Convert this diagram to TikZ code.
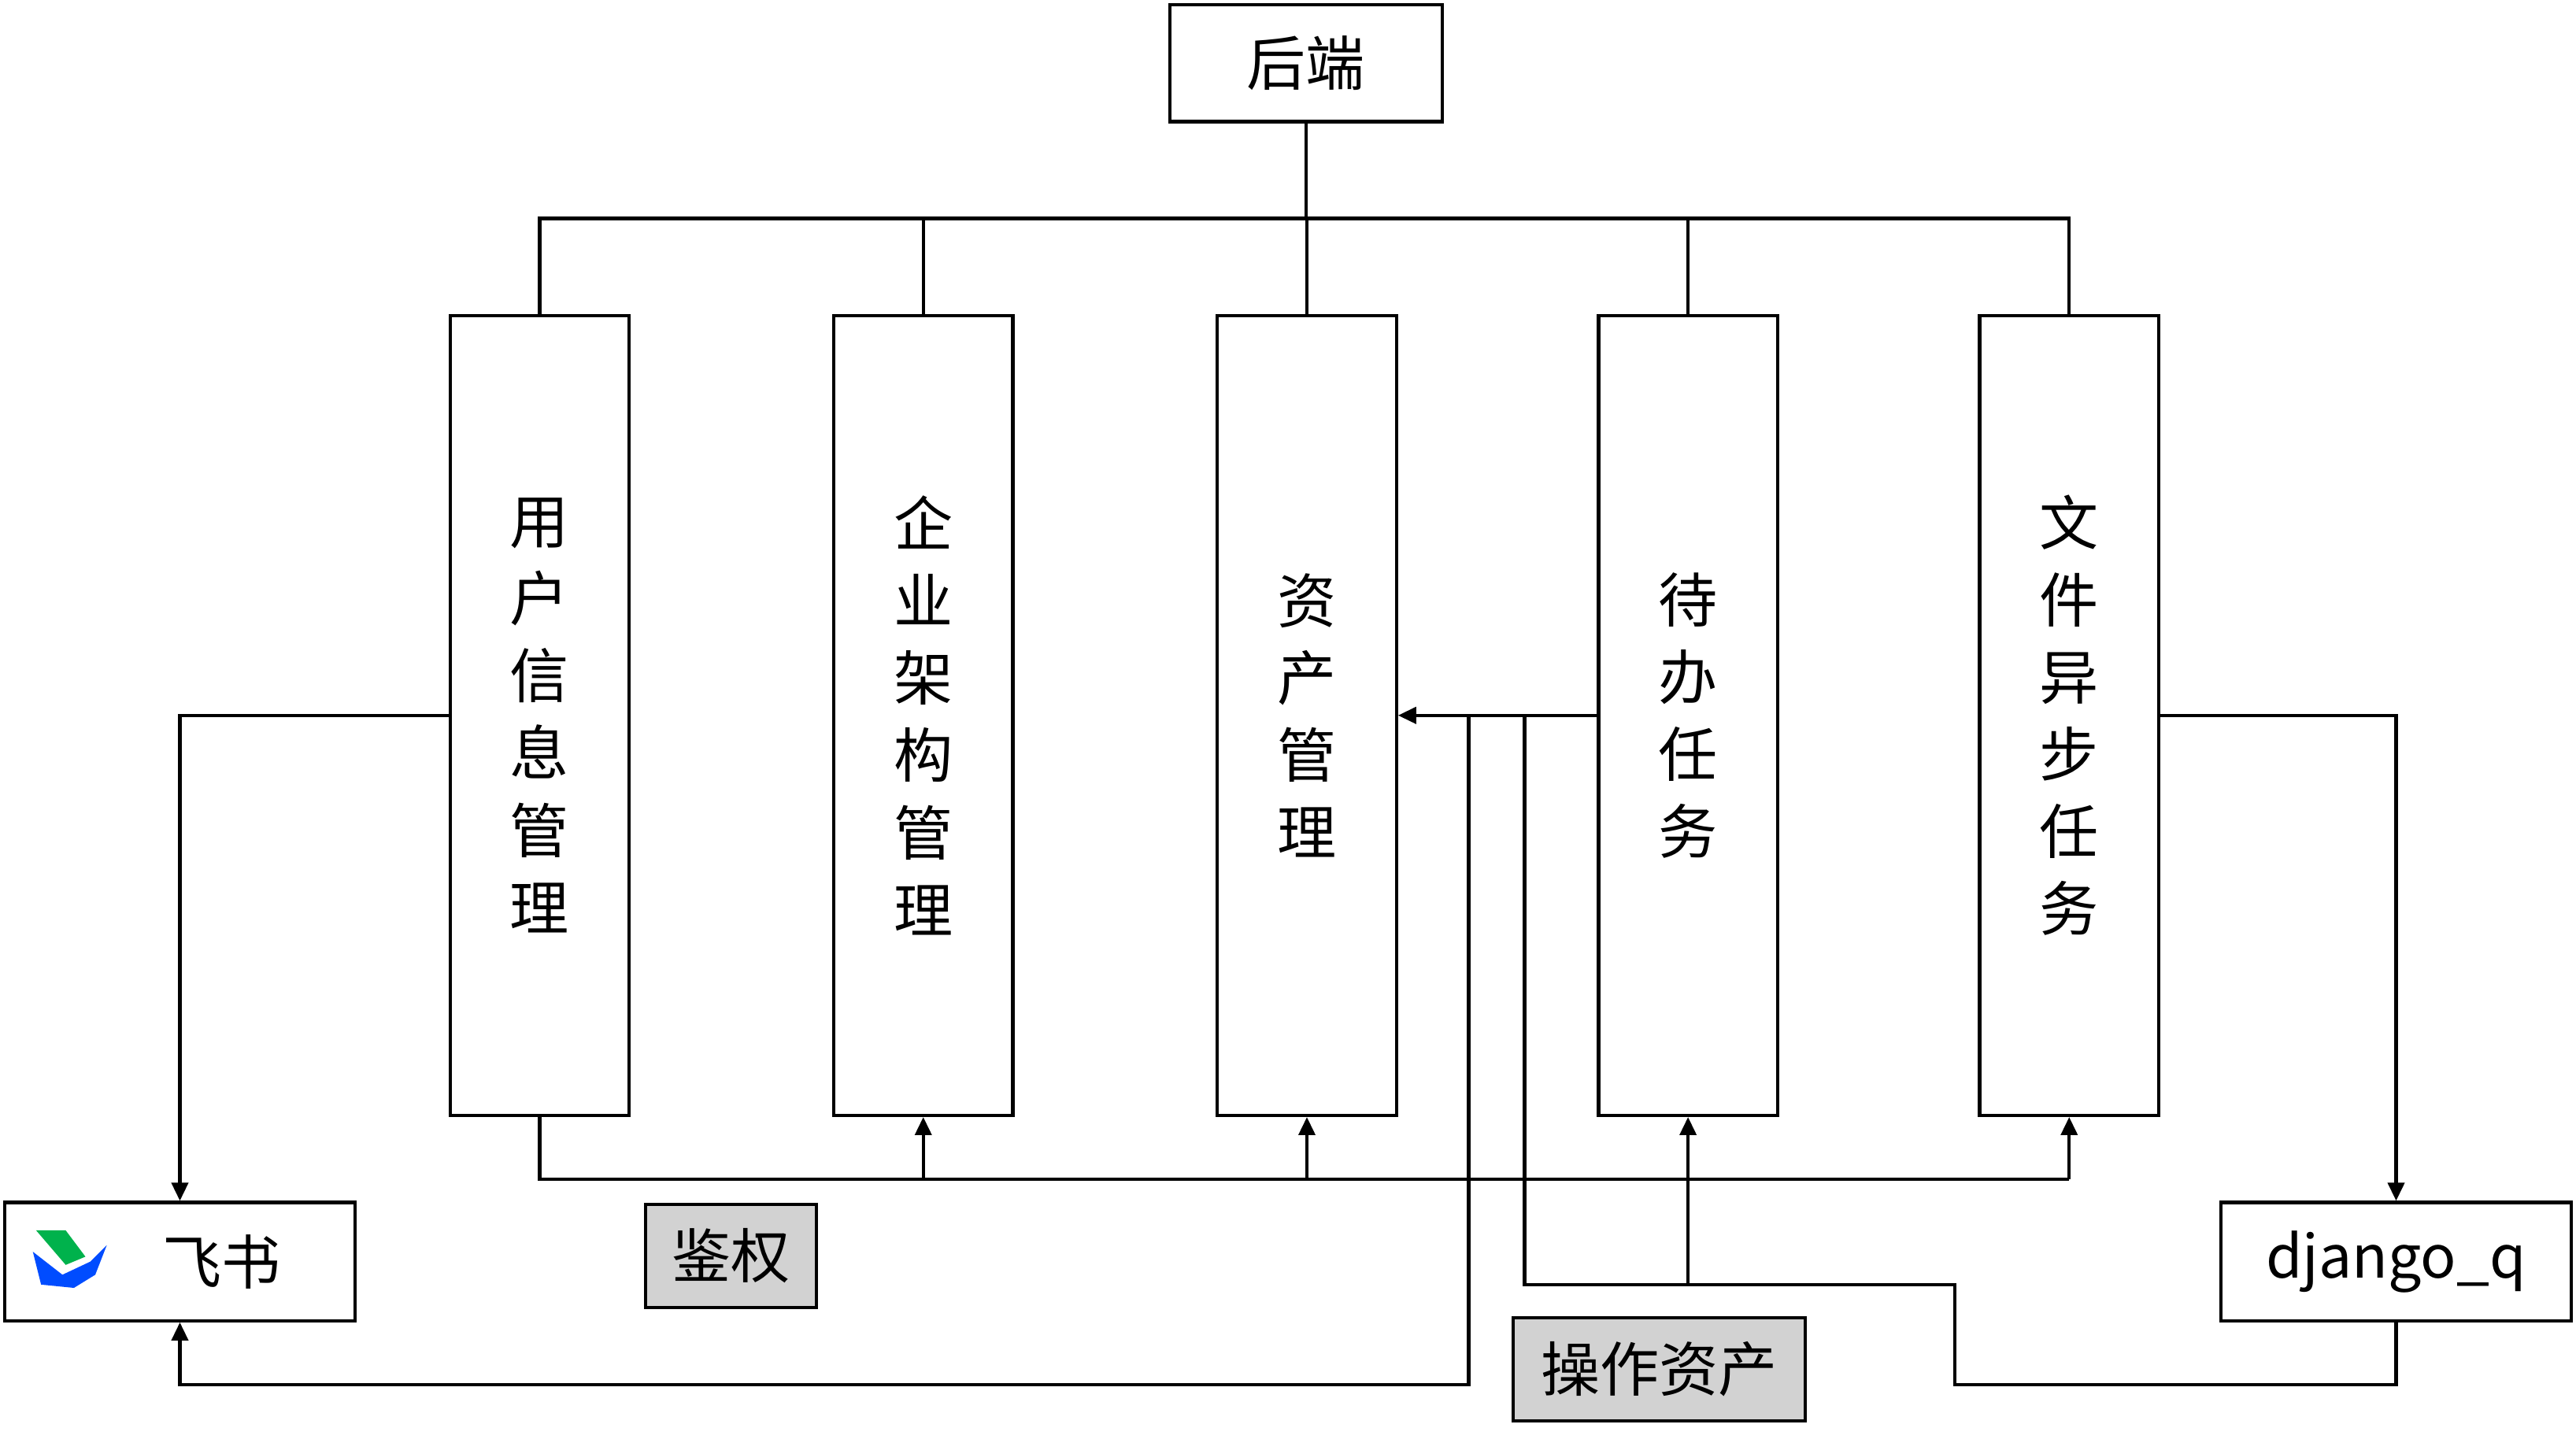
\documentclass[tikz,border=0pt]{standalone}
\usepackage{fontspec}
\newfontfamily\cjk{Noto Sans CJK SC}
\setmainfont{Noto Sans CJK SC}
\usetikzlibrary{arrows.meta}
\begin{document}
\begin{tikzpicture}[x=1pt,y=-1pt,
  box/.style={draw,line width=2pt,inner sep=0},
  gbox/.style={draw,line width=2pt,fill=gray!35,inner sep=0},
  ln/.style={line width=2pt},
  ar/.style={ln,-{Triangle[length=11pt,width=10pt]}},
  tx/.style={font=\fontsize{36}{44}\selectfont},
  vt/.style={align=center,font=\fontsize{36}{47}\selectfont}]
\useasboundingbox (0,0) rectangle (1568,876);
\node[box,minimum width=166,minimum height=71] (be) at (795,38.5) {};
\node[tx] at (be) {后端};
\foreach \n/\x in {u/328.5,q/562,z/795.5,d/1027.5,w/1259.5}
  \node[box,minimum width=109,minimum height=487] (\n) at (\x,435.5) {};
\node[vt] at (u) {用\\户\\信\\息\\管\\理};
\node[vt] at (q) {企\\业\\架\\构\\管\\理};
\node[vt] at (z) {资\\产\\管\\理};
\node[vt] at (d) {待\\办\\任\\务};
\node[vt] at (w) {文\\件\\异\\步\\任\\务};
\node[box,minimum width=213,minimum height=72] (fs) at (109.5,768) {};
\node[tx] at (135,768) {飞书};
\fill[teal!60!green] (22,749) -- (40,749) -- (52,765) -- (40,770) -- cycle;
\fill[blue!70!cyan] (20,762) -- (38,776) -- (55,768) -- (65,758) -- (58,776) -- (45,784) -- (25,782) -- cycle;
\node[gbox,minimum width=104,minimum height=63] (jq) at (445,764.5) {};
\node[tx] at (jq) {鉴权};
\node[gbox,minimum width=178,minimum height=63] (cz) at (1010,833.5) {};
\node[tx] at (cz) {操作资产};
\node[box,minimum width=213,minimum height=72] (dq) at (1458.5,768) {};
\node[tx] at (dq) {django\_q};
% top bus
\draw[ln] (be.south) -- (795,133);
\draw[ln] (u.north) -- (328.5,133) -- (1259.5,133) -- (w.north);
\foreach \n in {q,z,d} \draw[ln] (\n.north) |- (795,133);
% left
\draw[ar] (u.west) -| (fs.north);
% bottom bus
\draw[ln] (u.south) -- (328.5,718) -- (1259.5,718);
\draw[ar] (562,718) -- (q.south);
\draw[ar] (795.5,718) -- (z.south);
\draw[ar] (1259.5,718) -- (w.south);
% 待办 -> 资产
\draw[ar] (d.west) -- (z.east);
\draw[ln] (928,435.5) -- (928,782) -- (1190,782) -- (1190,843) -- (1458.5,843) -- (dq.south);
\draw[ar] (1027.5,782) -- (d.south);
\draw[ar] (894,435.5) -- (894,843) -- (109.5,843) -- (fs.south);
% right
\draw[ar] (w.east) -| (dq.north);
\end{tikzpicture}
\end{document}
